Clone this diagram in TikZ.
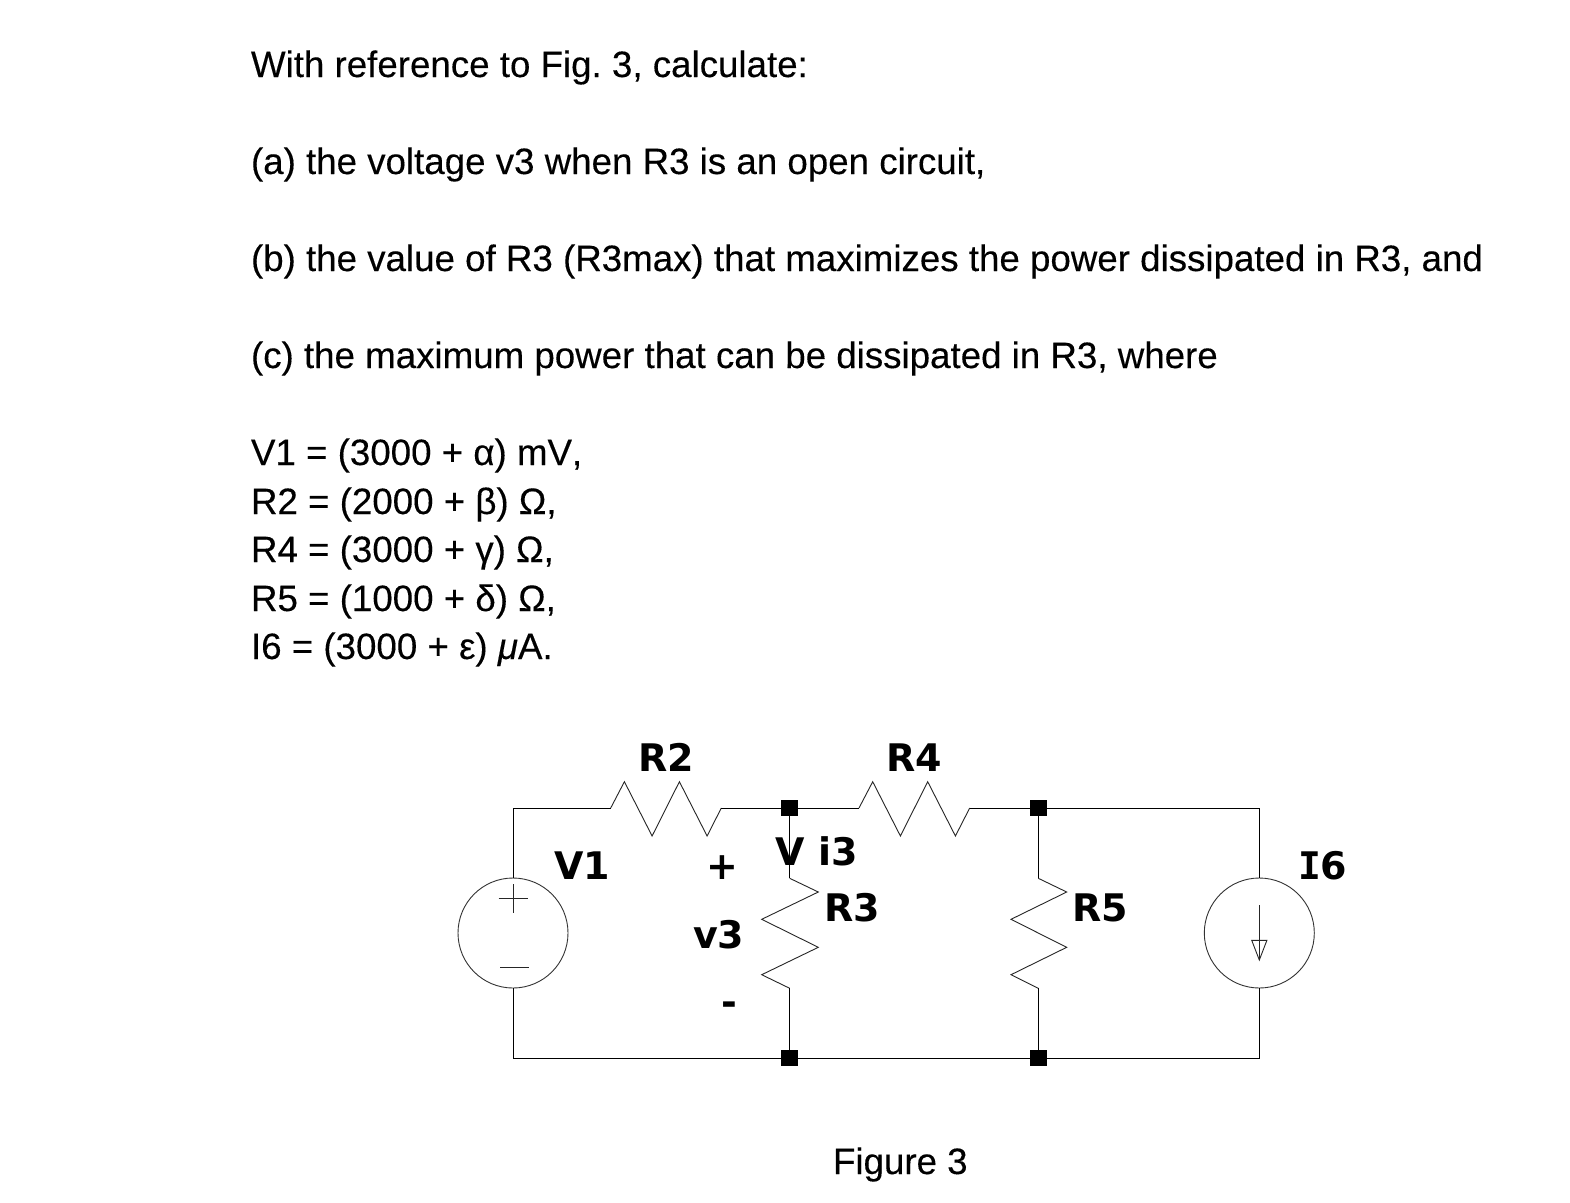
\documentclass[tikz,border=0pt]{standalone}
\usepackage{fontspec}
\setmainfont{Liberation Sans}
\newfontfamily\ltfont{DejaVu Sans}[BoldFont={DejaVu Sans Bold}]
\newfontfamily\ltmono{DejaVu Sans Mono}[BoldFont={DejaVu Sans Mono Bold}]
\frenchspacing
\begin{document}
\begin{tikzpicture}[x=1pt,y=-1pt,
  txt/.style={anchor=base west,inner sep=0pt,outer sep=0pt,font=\addfontfeature{FakeBold=0.25}\fontsize{36.7}{36.7}\selectfont,text=black},
  lab/.style={anchor=base west,inner sep=0pt,outer sep=0pt,font=\ltfont\bfseries\fontsize{38}{38}\selectfont},
  wire/.style={draw=black,line width=1pt},
  comp/.style={draw=black!85,line width=0.9pt,line join=miter},
  src/.style={circle,draw=black!80,line width=0.9pt,minimum size=110pt,inner sep=0pt,outer sep=0pt},
  junc/.style={rectangle,fill=black,minimum size=16.5pt,inner sep=0pt,outer sep=0pt}]
\useasboundingbox (0,0) rectangle (1570,1202);
\fill[white] (0,0) rectangle (1570,1202);
% text block
\node[txt] (t1) at (251,77) {With reference to Fig. 3, calculate:};
\node[txt] (t2) at (251,174) {(a) the voltage v3 when R3 is an open circuit,};
\node[txt] (t3) at (251,271) {(b) the value of R3 (R3max) that maximizes the power dissipated in R3, and};
\node[txt] (t4) at (251,368) {(c) the maximum power that can be dissipated in R3, where};
\node[txt] (t5) at (251,465) {V1 = (3000 + α) mV\kern0pt,};
\node[txt] (t6) at (251,514) {R2 = (2000 + β) Ω,};
\node[txt] (t7) at (251,562) {R4 = (3000 + γ) Ω,};
\node[txt] (t8) at (251,611) {R5 = (1000 + δ) Ω,};
\node[txt] (t9) at (251,659) {I6 = (3000 + ε) \textit{μ}A.};
\node[txt] (fig) at (833,1174) {Figure 3};
% circuit nodes
\node[src] (V1) at (513,933) {};
\node[src] (I6) at (1259.3,933) {};
\node[junc] (A) at (789.7,808) {};
\node[junc] (B) at (1038.3,808) {};
\node[junc] (C) at (789.7,1058) {};
\node[junc] (D) at (1038.3,1058) {};
\coordinate (R2a) at (610.7,808);
\coordinate (R2b) at (721.3,808);
\coordinate (R4a) at (859,808);
\coordinate (R4b) at (969.7,808);
\coordinate (R3a) at (789.7,878.3);
\coordinate (R3b) at (789.7,988.3);
\coordinate (R5a) at (1038.3,878.3);
\coordinate (R5b) at (1038.3,988.3);
% resistors
\draw[comp] (R2a) -- ++(13.7,-26.3) -- ++(27.7,54.3) -- ++(27.3,-54.3) -- ++(27.7,54.3) -- (R2b);
\draw[comp] (R4a) -- ++(13.7,-26.3) -- ++(27.7,54.3) -- ++(27.3,-54.3) -- ++(27.7,54.3) -- (R4b);
\draw[comp] (R3a) -- ++(28.6,13.7) -- ++(-56.6,27.3) -- ++(56.6,28) -- ++(-56.6,27.4) -- (R3b);
\draw[comp] (R5a) -- ++(28.4,13.7) -- ++(-55.7,27.3) -- ++(55.7,28) -- ++(-55.7,27.4) -- (R5b);
% wires
\draw[wire] (V1.north) |- (R2a);
\draw[wire] (R2b) -- (A);
\draw[wire] (A) -- (R4a);
\draw[wire] (R4b) -- (B);
\draw[wire] (B) -| (I6.north);
\draw[wire] (A) -- (R3a);
\draw[wire] (R3b) -- (C);
\draw[wire] (B) -- (R5a);
\draw[wire] (R5b) -- (D);
\draw[wire] (V1.south) |- (C);
\draw[wire] (C) -- (D);
\draw[wire] (D) -| (I6.south);
% source symbols
\coordinate (Vp) at (513,898.3);
\coordinate (Vm) at (513,967.7);
\draw[comp] (Vp) ++(-14.5,0) -- ++(29,0);
\draw[comp] (Vp) ++(0,-14.3) -- ++(0,28.6);
\draw[comp] (Vm) ++(-13,0) -- ++(29,0);
\coordinate (Ia) at (1259.3,905);
\coordinate (It) at (1259.3,960);
\draw[comp] (Ia) -- (It);
\draw[comp] (It) -- ++(-7.6,-19.7) -- ++(15.2,0) -- cycle;
% labels
\node[lab] (lR2) at (638,771.7) {R2};
\node[lab] (lR4) at (886.5,771.7) {R4};
\node[lab] (lV1) at (554.5,879) {V1};
\node[lab] (lI6) at (1298,879) {{\ltmono\bfseries I}6};
\node[lab] (lR3) at (824.5,921) {R3};
\node[lab] (lR5) at (1072.7,921) {R5};
\node[lab] (lv3) at (693,948) {v3};
\node[lab] (lVi) at (775.5,865) {V i3};
\node[lab] (lp) at (706,879) {+};
\node[lab] (lm) at (721,1015) {-};
\end{tikzpicture}
\end{document}
